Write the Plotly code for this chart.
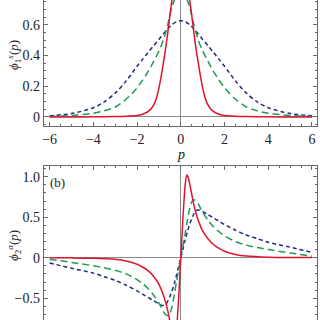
import plotly.graph_objects as go

# ---------- panel (a): even functions ----------
p_red1 = [-6, -5, -4, -3, -2.5, -2, -1.75, -1.5, -1.35, -1.2, -1.1, -1, -0.9, -0.8, -0.7, -0.6, -0.5, -0.4, -0.2,
          0,
          0.2, 0.4, 0.5, 0.6, 0.7, 0.8, 0.9, 1, 1.1, 1.2, 1.35, 1.5, 1.75, 2, 2.5, 3, 4, 5, 6]
red1 = [0, 0, 0.001, 0.003, 0.005, 0.01, 0.018, 0.035, 0.055, 0.09, 0.13, 0.19, 0.265, 0.35, 0.44, 0.545, 0.66, 0.77, 0.95,
        1.05,
        0.95, 0.77, 0.66, 0.545, 0.44, 0.35, 0.265, 0.19, 0.13, 0.09, 0.055, 0.035, 0.018, 0.01, 0.005, 0.003, 0.001, 0, 0]

p_bg1 = [-6, -5, -4, -3.5, -3, -2.5, -2, -1.75, -1.5, -1.25, -1, -0.8, -0.6, -0.4, -0.2,
         0,
         0.2, 0.4, 0.6, 0.8, 1, 1.25, 1.5, 1.75, 2, 2.5, 3, 3.5, 4, 5, 6]
blue1 = [0.008, 0.022, 0.06, 0.098, 0.155, 0.235, 0.33, 0.375, 0.42, 0.463, 0.505, 0.54, 0.575, 0.602, 0.62,
         0.627,
         0.62, 0.602, 0.575, 0.54, 0.505, 0.463, 0.42, 0.375, 0.33, 0.235, 0.155, 0.098, 0.06, 0.022, 0.008]
green1 = [0.003, 0.009, 0.024, 0.04, 0.065, 0.115, 0.19, 0.24, 0.295, 0.36, 0.43, 0.50, 0.60, 0.72, 0.785,
          0.80,
          0.785, 0.72, 0.60, 0.50, 0.43, 0.36, 0.295, 0.24, 0.19, 0.115, 0.065, 0.04, 0.024, 0.009, 0.003]

# ---------- panel (b): odd functions ----------
p_red2 = [-6, -5, -4, -3, -2.5, -2, -1.75, -1.5, -1.25, -1, -0.9, -0.75, -0.6, -0.45, -0.35, -0.27, -0.2, -0.15, -0.1, -0.05,
          0,
          0.05, 0.1, 0.15, 0.2, 0.27, 0.35, 0.45, 0.6, 0.75, 0.9, 1, 1.25, 1.5, 1.75, 2, 2.5, 3, 4, 5, 6]
red2 = [-0.001, -0.002, -0.006, -0.02, -0.04, -0.08, -0.115, -0.16, -0.23, -0.33, -0.39, -0.5, -0.65, -0.85, -0.98, -1.02, -0.9, -0.72, -0.5, -0.25,
        0,
        0.25, 0.5, 0.72, 0.9, 1.02, 0.98, 0.85, 0.65, 0.5, 0.39, 0.33, 0.23, 0.16, 0.115, 0.08, 0.04, 0.02, 0.006, 0.002, 0.001]

p_bg2 = [-6, -5, -4, -3.5, -3, -2.5, -2, -1.75, -1.5, -1.25, -1, -0.9, -0.8, -0.7, -0.6, -0.5, -0.4, -0.3, -0.2, -0.1,
         0,
         0.1, 0.2, 0.3, 0.4, 0.5, 0.6, 0.7, 0.8, 0.9, 1, 1.25, 1.5, 1.75, 2, 2.5, 3, 3.5, 4, 5, 6]
blue2 = [-0.065, -0.13, -0.19, -0.235, -0.28, -0.34, -0.41, -0.45, -0.49, -0.53, -0.57, -0.585, -0.59, -0.58, -0.54, -0.48, -0.41, -0.32, -0.22, -0.11,
         0,
         0.11, 0.22, 0.32, 0.41, 0.48, 0.54, 0.58, 0.59, 0.585, 0.57, 0.53, 0.49, 0.45, 0.41, 0.34, 0.28, 0.235, 0.19, 0.13, 0.065]
green2 = [-0.02, -0.058, -0.1, -0.125, -0.155, -0.2, -0.27, -0.32, -0.38, -0.46, -0.56, -0.61, -0.665, -0.7, -0.715, -0.69, -0.6, -0.46, -0.3, -0.15,
          0,
          0.15, 0.3, 0.46, 0.6, 0.69, 0.715, 0.7, 0.665, 0.61, 0.56, 0.46, 0.38, 0.32, 0.27, 0.2, 0.155, 0.125, 0.1, 0.058, 0.02]

x_ticks = [-6, -4, -2, 0, 2, 4, 6]
x_ticktext = ["\u22126", "\u22124", "\u22122", "0", "2", "4", "6"]
y1_ticks = [0, 0.2, 0.4, 0.6]
y1_ticktext = ["0", "0.2", "0.4", "0.6"]
y2_ticks = [-0.5, 0, 0.5, 1.0]
y2_ticktext = ["\u22120.5", "0", "0.5", "1.0"]

RED = "#e0142e"
GREEN = "#1f9a50"
BLUE = "#1d2b7c"
FRAME = "#6a6a6a"
ZERO = "#8a8a8a"
FONT = "Liberation Serif"

fig = go.Figure()

def add(px, py, color, dash, xa, ya):
    fig.add_trace(go.Scatter(x=px, y=py, mode="lines", xaxis=xa, yaxis=ya,
                             line=dict(color=color, width=1.5, dash=dash, shape="spline", smoothing=0.8),
                             showlegend=False, hoverinfo="skip"))

add(p_bg1, blue1, BLUE, "4px,3px", "x", "y")
add(p_bg1, green1, GREEN, "7px,4px", "x", "y")
add(p_red1, red1, RED, "solid", "x", "y")
add(p_bg2, blue2, BLUE, "4px,3px", "x2", "y2")
add(p_bg2, green2, GREEN, "7px,4px", "x2", "y2")
add(p_red2, red2, RED, "solid", "x2", "y2")

xdom = [42 / 320, 317 / 320]
xrange_ = [-6.27, 6.23]
common_x = dict(domain=xdom, range=xrange_, tickvals=x_ticks, ticks="inside", ticklen=4,
                tickcolor=FRAME, showline=True, linecolor=FRAME, linewidth=1, showgrid=False,
                zeroline=True, zerolinecolor=ZERO, zerolinewidth=1,
                minor=dict(dtick=0.5, tick0=0, ticks="inside", ticklen=2, tickcolor=FRAME, showgrid=False),
                tickfont=dict(family=FONT, size=14, color="#222"))

fig.update_layout(
    width=320, height=320, margin=dict(l=0, r=0, t=0, b=0),
    paper_bgcolor="white", plot_bgcolor="white",
    xaxis=dict(anchor="y", ticktext=x_ticktext, side="bottom", **common_x),
    yaxis=dict(domain=[1 - 126 / 320, 1], range=[-0.059, 0.762], anchor="x",
               tickvals=y1_ticks, ticktext=y1_ticktext, ticks="inside", ticklen=4, tickcolor=FRAME,
               showline=True, linecolor=FRAME, linewidth=1, mirror="ticks", showgrid=False,
               zeroline=True, zerolinecolor=ZERO, zerolinewidth=1,
               minor=dict(dtick=0.05, tick0=0, ticks="inside", ticklen=2, tickcolor=FRAME, showgrid=False),
               tickfont=dict(family=FONT, size=14, color="#222")),
    xaxis2=dict(anchor="y2", side="top", showticklabels=False, **common_x),
    yaxis2=dict(domain=[0, 1 - 166 / 320], range=[-0.769, 1.132], anchor="x2",
                tickvals=y2_ticks, ticktext=y2_ticktext, ticks="inside", ticklen=4, tickcolor=FRAME,
                showline=True, linecolor=FRAME, linewidth=1, mirror="ticks", showgrid=False,
                zeroline=True, zerolinecolor=ZERO, zerolinewidth=1,
                minor=dict(dtick=0.1, tick0=0, ticks="inside", ticklen=2, tickcolor=FRAME, showgrid=False),
                tickfont=dict(family=FONT, size=14, color="#222")),
    annotations=[
        dict(x=180 / 320, y=1 - 154 / 320, xref="paper", yref="paper", text="<i>p</i>", showarrow=False,
             font=dict(family=FONT, size=14, color="#222"), xanchor="center", yanchor="middle"),
        dict(x=12 / 320, y=1 - 55 / 320, xref="paper", yref="paper",
             text="<i>\u03d5</i><sub>1</sub><sup><i>s</i></sup>(<i>p</i>)", showarrow=False, textangle=-90,
             font=dict(family=FONT, size=13, color="#222"), xanchor="center", yanchor="middle"),
        dict(x=12 / 320, y=1 - 245 / 320, xref="paper", yref="paper",
             text="<i>\u03d5</i><sub>2</sub><sup><i>a</i></sup>(<i>p</i>)", showarrow=False, textangle=-90,
             font=dict(family=FONT, size=13, color="#222"), xanchor="center", yanchor="middle"),
        dict(x=56 / 320, y=1 - 182 / 320, xref="paper", yref="paper", text="(b)", showarrow=False,
             font=dict(family=FONT, size=13, color="#222"), xanchor="center", yanchor="middle"),
    ],
)

fig.write_html("out.html")
